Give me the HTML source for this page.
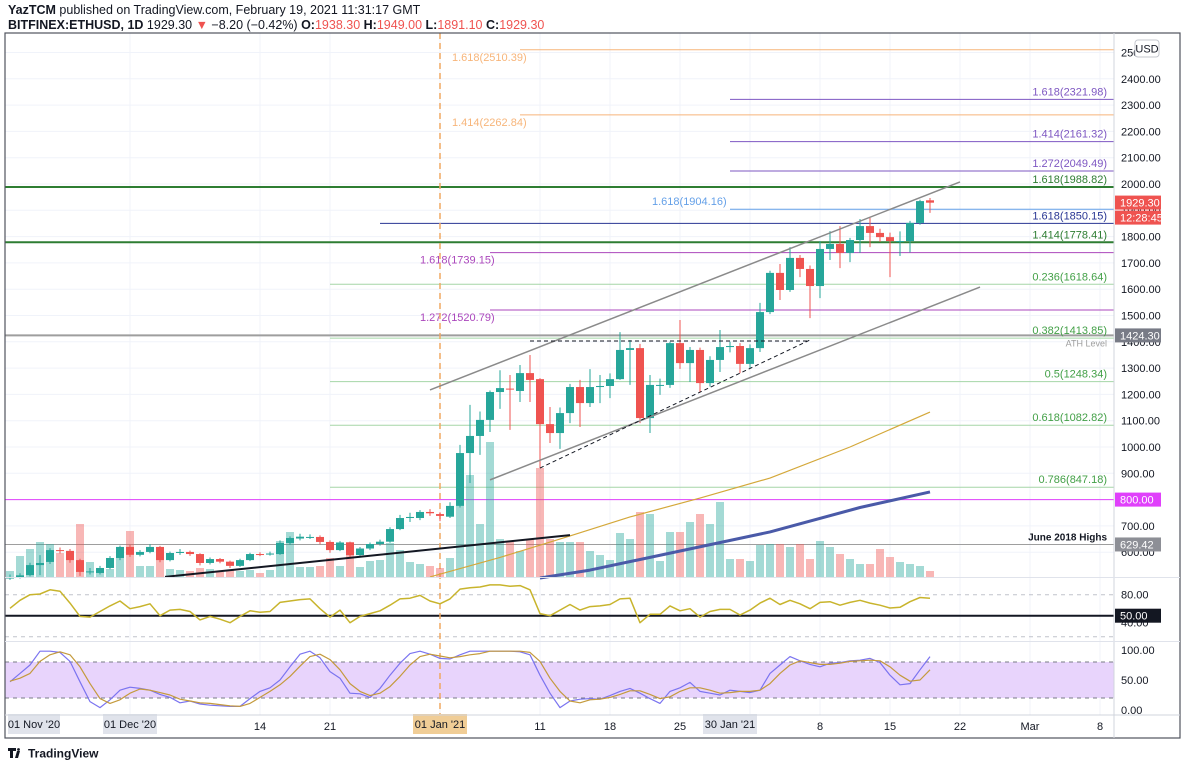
<!DOCTYPE html>
<html><head><meta charset="utf-8"><style>
html,body{margin:0;padding:0;background:#fff;width:1185px;height:768px;overflow:hidden;font-family:"Liberation Sans",sans-serif}
svg text{font-family:"Liberation Sans",sans-serif}
</style></head><body>
<svg id="c" width="1185" height="768" viewBox="0 0 1185 768" xmlns="http://www.w3.org/2000/svg">
<text x="8" y="14" font-size="12.5" fill="#131722"><tspan font-weight="bold">YazTCM</tspan> published on TradingView.com, February 19, 2021 11:31:17 GMT</text>
<text x="8" y="29" font-size="12.5" fill="#131722"><tspan font-weight="bold">BITFINEX:ETHUSD, 1D</tspan> 1929.30 <tspan fill="#ef5350">▼</tspan> −8.20 (−0.42%) <tspan font-weight="bold">O:</tspan><tspan fill="#ef5350">1938.30</tspan> <tspan font-weight="bold">H:</tspan><tspan fill="#ef5350">1949.00</tspan> <tspan font-weight="bold">L:</tspan><tspan fill="#ef5350">1891.10</tspan> <tspan font-weight="bold">C:</tspan><tspan fill="#ef5350">1929.30</tspan></text>
<g id="grid"></g><g id="main"></g><g id="ind"></g><g id="axes"></g>
<rect x="5" y="33" width="1175" height="705" fill="none" stroke="#50535e" stroke-width="1.2"/>
<line x1="1114" y1="33" x2="1114" y2="738" stroke="#d1d4dc"/>
<line x1="5" y1="715" x2="1180" y2="715" stroke="#d1d4dc"/>
<line x1="5" y1="577.5" x2="1180" y2="577.5" stroke="#e0e3eb"/>
<line x1="5" y1="641.5" x2="1180" y2="641.5" stroke="#e0e3eb"/>
<rect x="1135" y="40" width="24" height="17" rx="3" fill="#fff" stroke="#c4c7ce"/>
<text x="1147" y="52.5" font-size="11" text-anchor="middle" fill="#131722">USD</text>
<g><path d="M8 748h8v3h-3v7h-3v-7h-2z M17 751h3l-2 7h-3z" fill="#131722"/><circle cx="18.5" cy="749.5" r="1.4" fill="#131722"/><text x="28" y="757.5" font-size="12" fill="#131722" font-weight="bold">TradingView</text></g>
</svg>
<script>
const NS='http://www.w3.org/2000/svg';
// ---- data ----
const opens=[500,505,513,551,563,608,605,570,525,521,540,578,620,590,601,620,570,597,601,593,559,574,564,548,570,593,591,593,635,652,658,658,639,608,637,589,614,631,640,688,730,730,753,745,735,776,977,1042,1103,1209,1222,1213,1281,1258,1087,1053,1129,1228,1167,1228,1232,1258,1369,1376,1110,1236,1236,1395,1319,1369,1243,1331,1380,1384,1316,1376,1513,1662,1597,1719,1677,1612,1753,1772,1738,1787,1840,1814,1798,1783,1783,1852,1938];
const closes=[505,512,551,559,608,605,570,525,527,540,578,620,590,601,620,570,597,601,593,559,574,564,548,570,593,591,595,635,654,659,658,639,608,637,589,614,631,640,688,730,734,753,748,738,776,977,1042,1103,1209,1224,1220,1281,1255,1087,1053,1129,1228,1167,1228,1232,1258,1369,1376,1110,1236,1236,1395,1319,1369,1243,1331,1380,1384,1316,1376,1513,1662,1597,1719,1677,1612,1753,1772,1738,1787,1840,1814,1798,1783,1783,1852,1935,1929];
const highs=[515,520,560,589,615,618,612,575,540,548,585,625,628,608,630,624,602,612,606,596,580,578,568,575,598,600,602,645,660,670,668,664,645,642,640,620,637,648,695,742,750,760,764,752,790,1008,1160,1135,1215,1292,1274,1312,1350,1262,1152,1150,1240,1255,1296,1274,1280,1437,1407,1392,1274,1260,1400,1483,1380,1378,1345,1445,1400,1395,1390,1548,1670,1696,1760,1730,1690,1783,1821,1840,1795,1867,1871,1830,1815,1820,1860,1940,1947];
const lows=[495,500,508,513,555,595,560,510,515,515,535,570,582,584,596,562,565,590,586,550,553,558,540,544,566,585,587,590,628,645,650,630,598,604,580,584,608,625,636,684,715,722,738,718,730,770,863,970,1057,1145,1065,1171,1171,920,1015,993,1091,1076,1152,1167,1186,1255,1236,1091,1053,1198,1225,1297,1247,1209,1230,1285,1360,1281,1300,1361,1505,1559,1590,1646,1490,1566,1711,1680,1703,1738,1760,1780,1646,1726,1740,1845,1890];
const volumes=[6,21,28,35,33,24,25,53,15,8,8,19,46,11,11,19,8,7,6,9,8,5,7,6,7,4,7,36,45,10,10,11,19,11,35,10,16,17,34,27,15,13,11,9,19,71,102,53,135,38,35,26,38,109,38,35,35,35,26,22,17,44,38,65,63,16,45,45,55,63,53,75,18,18,16,32,33,33,30,33,18,36,30,23,18,13,13,28,20,15,13,11,6];
const rsi=[60.5,72,80,81,87,85,68,49,48,56,64,71,60,63,67,50,58,59,56,44,49,45,40,49,57,55,56,69,71,73,74,60,48,58,40,49,53,57,65,74,75,79,71,67,74,88,90,91,94,94,92,93,87,53,50,58,66,58,63,64,66,74,75,40,52,52,64,57,60,48,56,59,59,51,58,68,75,66,72,67,60,69,70,65,69,72,68,65,61,62,70,76,75];
const stochK=[47,61,75,98,98,96,81,47,14,4,17,33,38,36,33,26,21,12,15,10,8,7,6,6,19,31,37,50,72,93,98,87,64,53,28,27,21,36,58,78,94,98,93,86,85,92,98,98,98,98,98,97,92,58,28,4,15,18,19,18,24,31,36,28,19,11,31,37,46,31,28,25,33,31,29,33,61,75,89,82,76,72,78,79,82,83,86,79,58,42,44,67,89];
const stochD=[48,53,61,81,92,97,92,72,44,19,11,17,28,35,33,29,25,18,15,12,11,9,7,6,11,21,31,42,56,73,89,93,84,67,44,31,24,28,39,56,75,89,93,90,87,89,92,94,98,98,98,98,96,81,53,31,15,12,17,18,21,26,32,32,26,19,22,31,37,37,33,28,29,31,31,33,44,61,75,82,79,76,76,78,81,82,83,82,72,58,48,50,67];
const ma50Idx=[42,49,56,62,69,76,84,92];
const ma50=[506,580,662,734,806,882,1000,1133];
const ma200Idx=[53,58,76,85,92];
const ma200=[502,532,677,770,829];
const priceTicks=[600,700,800,900,1000,1100,1200,1300,1400,1500,1600,1700,1800,1900,2000,2100,2200,2300,2400,2500];
const timeTicks=[['14',25],['21',32],['11',53],['18',60],['25',67],['8',81],['15',88],['22',95],['Mar',102],['8',109]];
const fibPrices=[2510.39,2321.98,2262.84,2161.32,2049.49,1988.82,1904.16,1850.15,1778.41,1739.15,1618.64,1520.79,1424.30,1413.85,1248.34,1082.82,847.18,800,629.42];
const fibLabels=['1.618(2510.39)','1.618(2321.98)','1.414(2262.84)','1.414(2161.32)','1.272(2049.49)','1.618(1988.82)','1.618(1904.16)','1.618(1850.15)','1.414(1778.41)','1.618(1739.15)','0.236(1618.64)','1.272(1520.79)','','0.382(1413.85)','0.5(1248.34)','0.618(1082.82)','0.786(847.18)','','June 2018 Highs'];
// ---- style per fib line (not data): color, start x, width, side, label x, label below? ----
const fibStyle=[['#f7b57a',520,1,'l',452,1],['#7e57c2',730,1,'r'],['#f7b57a',520,1,'l',452,1],['#7e57c2',730,1,'r'],['#7e57c2',730,1,'r'],['#2e7d32',5,2,'r'],['#64a0e8',730,1,'l',652,0],['#283593',380,1,'r'],['#2e7d32',5,2,'r'],['#ab47bc',490,1,'l',420,1],['#a5d6a7',330,1,'r'],['#ab47bc',490,1,'l',420,1],['#9e9e9e',5,2,'r'],['#a5d6a7',330,1,'r'],['#a5d6a7',330,1,'r'],['#a5d6a7',330,1,'r'],['#a5d6a7',330,1,'r'],['#e040fb',5,1,'r'],['#9e9e9e',5,1,'r']];
// ---- scales ----
const xOf=i=>10+i*10;
const yP=p=>184+(2000-p)*0.263;
const yV=v=>577-v;
const yR=v=>615.7-(v-50)*0.7;
const yS=v=>710-v*0.6;
function mk(parent,tag,attrs,text){const e=document.createElementNS(NS,tag);for(const k in attrs)e.setAttribute(k,attrs[k]);if(text!==undefined)e.textContent=text;document.getElementById(parent).appendChild(e);return e;}
// grid
priceTicks.forEach(p=>{const e=mk('grid','line',{x1:5,x2:1114,y1:yP(p),y2:yP(p),stroke:'#f0f3fa'});

});
[12,25,32,43,53,60,67,74,81,88,95,102,109].forEach(i=>{const e=mk('grid','line',{x1:xOf(i),x2:xOf(i),y1:33,y2:715,stroke:'#f0f3fa'});

});
// stoch band
{const e=mk('grid','rect',{x:5,y:yS(80),width:1109,height:yS(20)-yS(80),fill:'#e8d4fc'});

}
[80,20].forEach(v=>{const e=mk('grid','line',{x1:5,x2:1114,y1:yS(v),y2:yS(v),stroke:'#787b86','stroke-dasharray':'4 4'});

});
[80,20].forEach(v=>{const e=mk('grid','line',{x1:5,x2:1114,y1:yR(v),y2:yR(v),stroke:'#c0c3cb','stroke-dasharray':'4 4'});

});
{const e=mk('grid','line',{x1:5,x2:1114,y1:yR(50),y2:yR(50),stroke:'#131722','stroke-width':2});

}
// fib lines
fibPrices.forEach((p,k)=>{const s=fibStyle[k];const y=yP(p);
const e=mk('main','line',{x1:s[1],x2:1114,y1:y,y2:y,stroke:s[0],'stroke-width':s[2]});


if(fibLabels[k]){const isJ=fibLabels[k].startsWith('June');
const ly=(s[3]==='l'&&s[5])?y+11:y-4;
const t=mk('main','text',{x:s[3]==='r'?1107:s[4],y:ly,'font-size':isJ?10:11,'text-anchor':s[3]==='r'?'end':'start',fill:isJ?'#131722':(s[0]==='#a5d6a7'?'#43a047':s[0]),'font-weight':isJ?'bold':'normal'},fibLabels[k]);

}});
{const t=mk('main','text',{x:1107,y:yP(1424.3)+11,'font-size':9,'text-anchor':'end',fill:'#9e9e9e'},'ATH Level');

}
// vertical dashed Jan 1
{const e=mk('main','line',{x1:440,x2:440,y1:33,y2:715,stroke:'#f0a860','stroke-width':1.5,'stroke-dasharray':'6 4'});

}
// candles
opens.forEach((o,i)=>{const c=closes[i];const col=c>=o?'#26a69a':'#ef5350';const x=xOf(i);
const w=mk('main','line',{x1:x,x2:x,y1:yP(highs[i]),y2:yP(lows[i]),stroke:col,'stroke-width':1});


const top=yP(Math.max(o,c)),bot=yP(Math.min(o,c));
const b=mk('main','rect',{x:x-4,y:top,width:8,height:Math.max(1,bot-top),fill:col});

});
// volume
volumes.forEach((v,i)=>{const col=closes[i]>=opens[i]?'rgba(38,166,154,0.42)':'rgba(239,83,80,0.42)';
const b=mk('main','rect',{x:xOf(i)-4,y:yV(v),width:8,height:v,fill:col});

});
// moving averages
function poly(idx,vals,color,w){const pts=idx.map((i,k)=>xOf(i)+','+yP(vals[k])).join(' ');
return mk('main','polyline',{points:pts,fill:'none',stroke:color,'stroke-width':w,'stroke-linejoin':'round'});}
{const e=poly(ma50Idx,ma50,'#d4a83a',1.2);

}
{const e=poly(ma200Idx,ma200,'#4a5aa8',3);

}
// drawings (channel, triangle, trendline) in index/price space
const upperCh=[[42,1217],[95,2008]],lowerCh=[[48,875],[97,1608]],triTop=[[52,1403],[80,1403]],triBot=[[53,920],[80,1407]],support=[[15.5,506],[56,665]];
function seg(p,color,w,dash){const a={x1:xOf(p[0][0]),y1:yP(p[0][1]),x2:xOf(p[1][0]),y2:yP(p[1][1]),stroke:color,'stroke-width':w};if(dash)a['stroke-dasharray']=dash;return mk('main','line',a);}
{const e=seg(upperCh,'#8a8a8a',1.5);

}
{const e=seg(lowerCh,'#8a8a8a',1.5);

}
{const e=seg(triTop,'#131722',1,'4 3');

}
{const e=seg(triBot,'#131722',1,'4 3');

}
{const e=seg(support,'#131722',2);

}
// indicators
function line(vals,yf,color,w){return mk('ind','polyline',{points:vals.map((v,i)=>xOf(i)+','+yf(v)).join(' '),fill:'none',stroke:color,'stroke-width':w,'stroke-linejoin':'round'});}
{const e=line(rsi,yR,'#c8b42c',1.5);

}
{const e=line(stochK,yS,'#7b74f0',1.2);

}
{const e=line(stochD,yS,'#c49a3c',1.2);

}
// price axis labels
priceTicks.forEach(p=>{const t=mk('axes','text',{x:1121,y:yP(p)+4,'font-size':11,fill:'#131722'},p===2500?'250':p.toFixed(2));

});
function tag(y,bg,txt,fg,name){const r=mk('axes','rect',{x:1115,y:y-7,width:46,height:14,fill:bg});


const t=mk('axes','text',{x:1120,y:y+4,'font-size':11,fill:fg},txt);

}
tag(yP(1929.3),'#ef5350','1929.30','#fff','last-price-tag');
tag(yP(1929.3)+15,'#ef5350','12:28:45','#fff','countdown-tag');
tag(yP(1424.3),'#787b86','1424.30','#fff','ath-price-tag');
tag(yP(800),'#e040fb','800.00','#fff','level-800-tag');
tag(yP(629.42),'#8d8f96','629.42','#fff','june-2018-tag');
[[80,'80.00'],[40,'40.00']].forEach(a=>{const t=mk('axes','text',{x:1121,y:yR(a[0])+4,'font-size':11,fill:'#131722'},a[1]);

});
tag(yR(50),'#131722','50.00','#fff','rsi-50-tag');
[[100,'100.00'],[50,'50.00'],[0,'0.00']].forEach(a=>{const t=mk('axes','text',{x:1121,y:yS(a[0])+4,'font-size':11,fill:'#131722'},a[1]);

});
// time axis
timeTicks.forEach(a=>{const t=mk('axes','text',{x:xOf(a[1]),y:730,'font-size':11,'text-anchor':'middle',fill:'#131722'},a[0]);

});
[[8,52,'#e0e3eb','01 Nov \'20'],[103,54,'#e0e3eb','01 Dec \'20'],[413,54,'#f0cd96','01 Jan \'21'],[703,54,'#e0e3eb','30 Jan \'21']].forEach(a=>{
const r=mk('axes','rect',{x:a[0],y:714,width:a[1],height:20,fill:a[2]});


const t=mk('axes','text',{x:a[0]+a[1]/2,y:728,'font-size':11,'text-anchor':'middle',fill:'#131722'},a[3]);

});
</script>
</body></html>
